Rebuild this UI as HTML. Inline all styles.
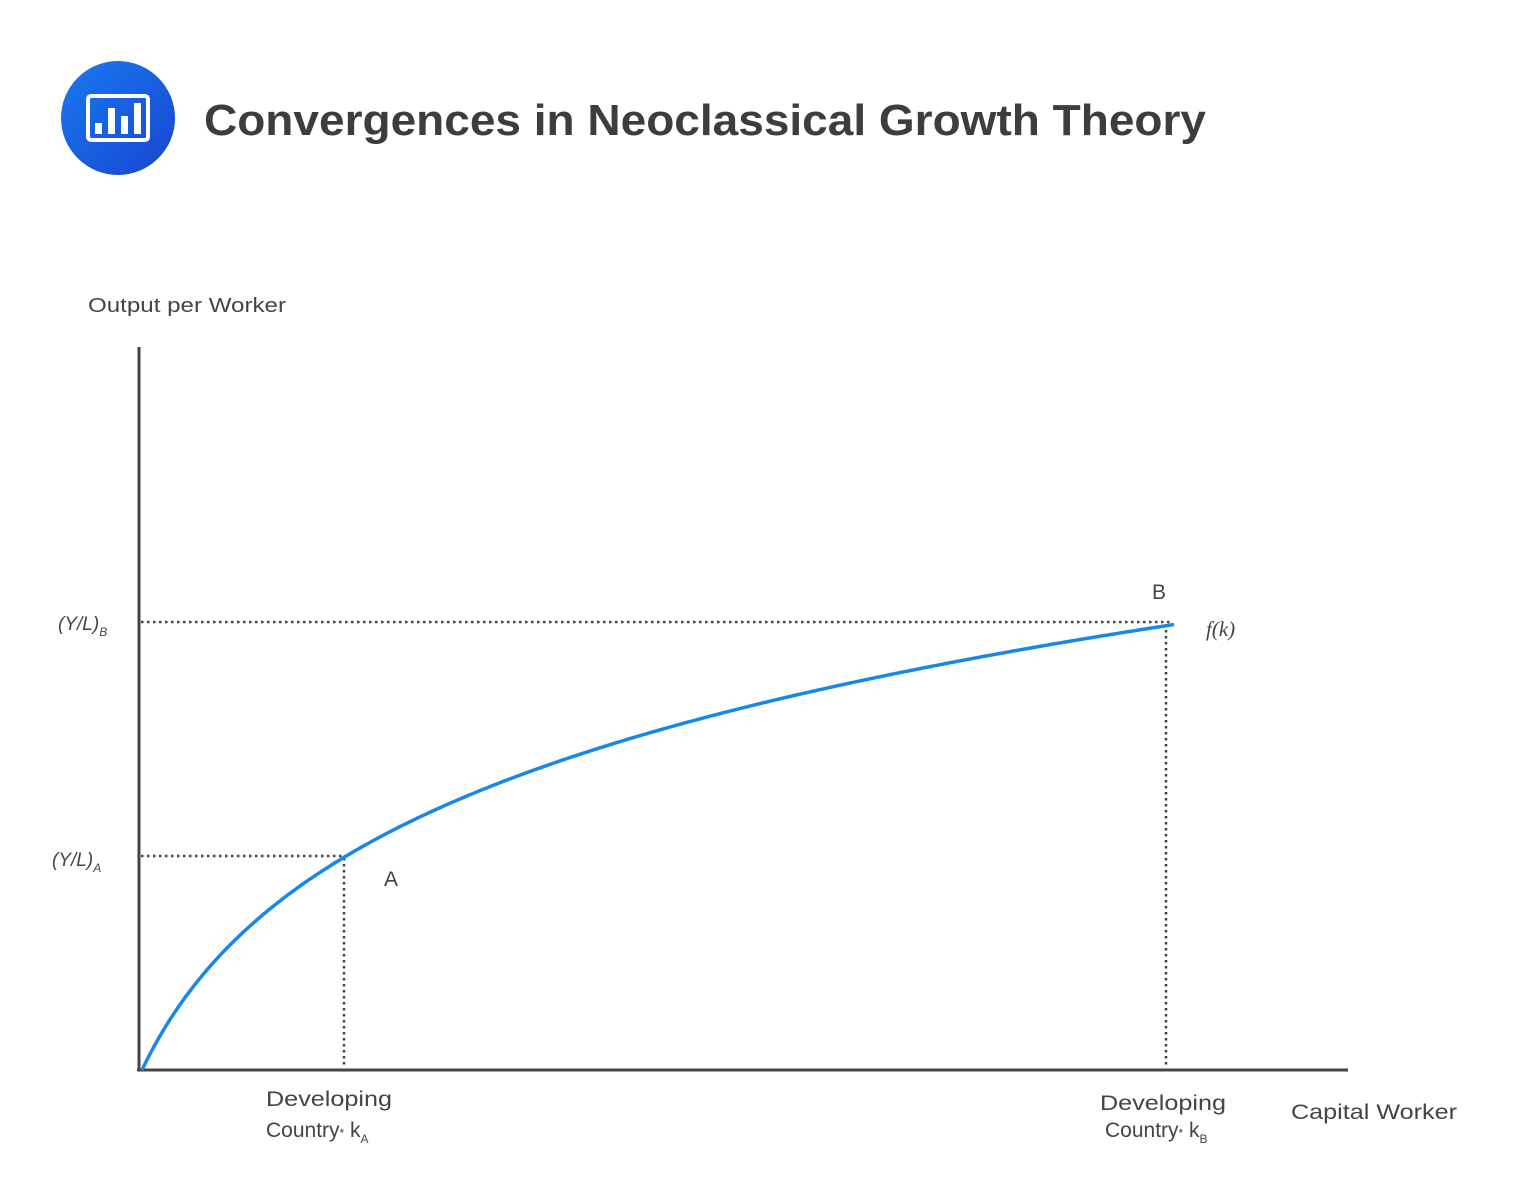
<!DOCTYPE html>
<html><head><meta charset="utf-8"><style>
body{margin:0;background:#fff;width:1536px;height:1192px;overflow:hidden}
svg{display:block}
text{font-family:"Liberation Sans",sans-serif;fill:#444}
</style></head><body>
<svg width="1536" height="1192" viewBox="0 0 1536 1192">
<defs><linearGradient id="g" x1="0" y1="0" x2="1" y2="1"><stop offset="0" stop-color="#1a7bf0"/><stop offset="1" stop-color="#1744d0"/></linearGradient></defs>
<circle cx="118" cy="118" r="57" fill="url(#g)"/>
<rect x="88" y="96" width="60" height="44" rx="3" fill="none" stroke="#fff" stroke-width="4"/>
<rect x="95" y="123" width="7" height="11" fill="#fff"/>
<rect x="108" y="108" width="7" height="26" fill="#fff"/>
<rect x="121" y="116" width="7" height="18" fill="#fff"/>
<rect x="134" y="103" width="7" height="31" fill="#fff"/>
<text x="204" y="135" font-size="44" font-weight="bold" style="fill:#3d3d3d" textLength="1002" lengthAdjust="spacingAndGlyphs">Convergences in Neoclassical Growth Theory</text>
<text x="88" y="312" font-size="20" textLength="198" lengthAdjust="spacingAndGlyphs">Output per Worker</text>
<line x1="139" y1="347" x2="139" y2="1071" stroke="#444" stroke-width="3"/>
<line x1="137" y1="1070" x2="1348" y2="1070" stroke="#444" stroke-width="3"/>
<g stroke="#444" stroke-width="2.5" stroke-dasharray="2.5,3.5" fill="none">
<line x1="141" y1="622" x2="1170" y2="622"/>
<line x1="1166" y1="624" x2="1166" y2="1068"/>
<line x1="141" y1="856" x2="344" y2="856"/>
<line x1="344" y1="858" x2="344" y2="1068"/>
</g>
<path id="c" fill="none" stroke="#1787e8" stroke-width="3.5"/>
<text x="58" y="630" font-size="19" font-style="italic">(Y/L)<tspan font-size="12" dy="6">B</tspan></text>
<text x="52" y="866" font-size="19" font-style="italic">(Y/L)<tspan font-size="12" dy="6">A</tspan></text>
<text x="1152" y="599" font-size="21">B</text>
<text x="384" y="886" font-size="21">A</text>
<text x="1206" y="636" font-size="21" font-style="italic" style="font-family:'Liberation Serif',serif">f(k)</text>
<text x="266" y="1106" font-size="21" textLength="126" lengthAdjust="spacingAndGlyphs">Developing</text>
<text x="266" y="1137" font-size="21">Country<tspan font-size="12">*</tspan> k<tspan font-size="12" dy="6">A</tspan></text>
<text x="1100" y="1110" font-size="21" textLength="126" lengthAdjust="spacingAndGlyphs">Developing</text>
<text x="1105" y="1137" font-size="21">Country<tspan font-size="12">*</tspan> k<tspan font-size="12" dy="6">B</tspan></text>
<text x="1291" y="1119" font-size="21" textLength="166" lengthAdjust="spacingAndGlyphs">Capital Worker</text>
</svg>
<script>
var d="",s=81,c=170;
for(var x=142;x<=1176;x+=4){var y=1070-c*Math.log(1+(x-142)/s);d+=(x==142?"M":"L")+x+","+y.toFixed(1);}
document.getElementById("c").setAttribute("d",d);
</script>
</body></html>
